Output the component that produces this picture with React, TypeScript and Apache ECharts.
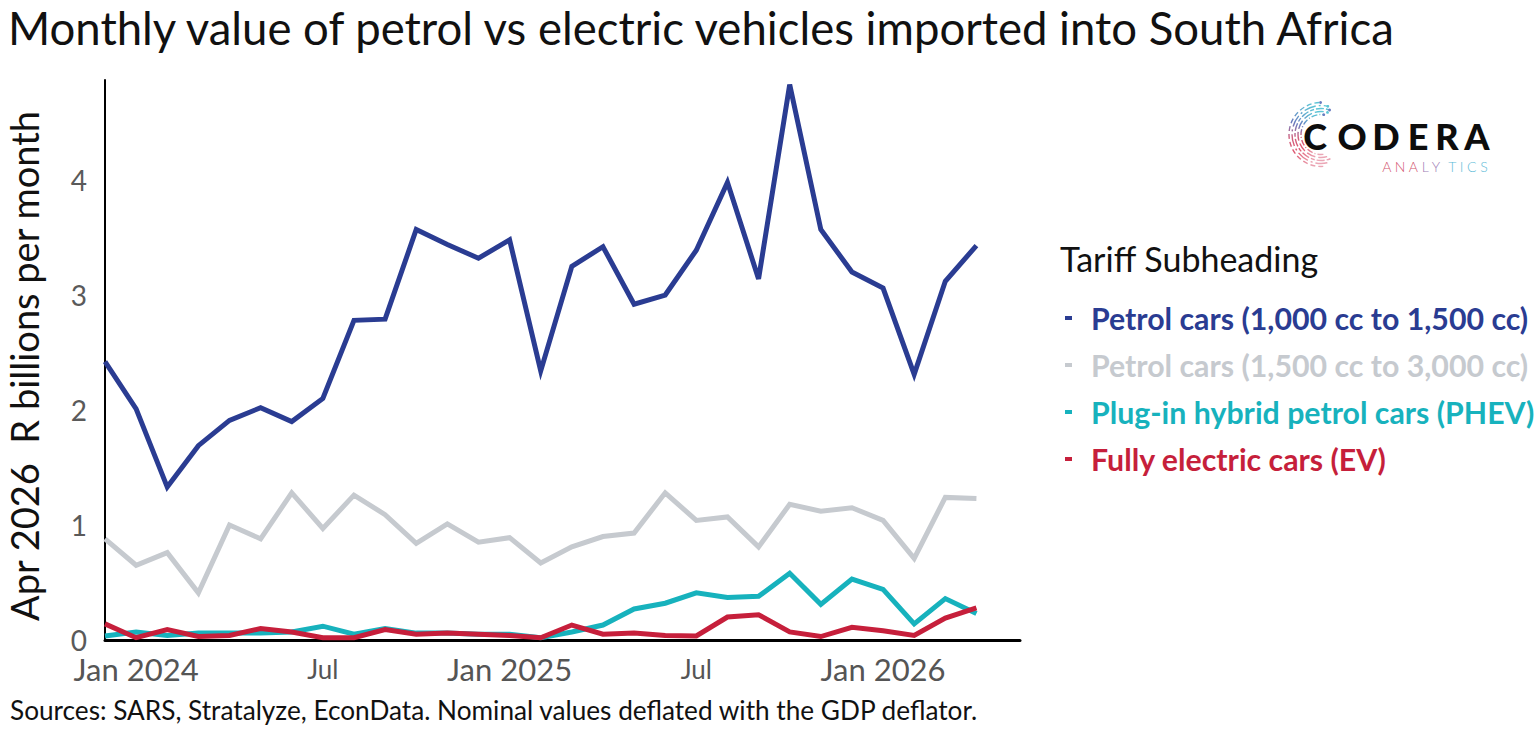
import React, { useEffect, useRef } from "react";
import * as echarts from "echarts";

// Months covered, Dec 2023 to Apr 2026 (one value per month per series)
const months = [
  "2023-12",
  "2024-01", "2024-02", "2024-03", "2024-04", "2024-05", "2024-06",
  "2024-07", "2024-08", "2024-09", "2024-10", "2024-11", "2024-12",
  "2025-01", "2025-02", "2025-03", "2025-04", "2025-05", "2025-06",
  "2025-07", "2025-08", "2025-09", "2025-10", "2025-11", "2025-12",
  "2026-01", "2026-02", "2026-03", "2026-04",
];

// R billions per month, Apr 2026 prices
const petrolSmall = [
  2.42, 2.01, 1.33, 1.69, 1.91, 2.02, 1.9, 2.1, 2.78, 2.79, 3.57, 3.44, 3.32,
  3.48, 2.34, 3.25, 3.42, 2.92, 3.0, 3.39, 3.98, 3.14, 4.83, 3.57, 3.2, 3.06,
  2.31, 3.12, 3.43,
];
const petrolLarge = [
  0.88, 0.65, 0.76, 0.41, 1.0, 0.88, 1.28, 0.97, 1.26, 1.09, 0.84, 1.01, 0.85,
  0.89, 0.67, 0.81, 0.9, 0.93, 1.28, 1.04, 1.07, 0.81, 1.18, 1.12, 1.15, 1.04,
  0.71, 1.24, 1.23,
];
const phev = [
  0.035, 0.07, 0.04, 0.06, 0.06, 0.06, 0.07, 0.12, 0.05, 0.1, 0.06, 0.06, 0.05,
  0.05, 0.02, 0.07, 0.13, 0.27, 0.32, 0.41, 0.37, 0.38, 0.58, 0.31, 0.53, 0.44,
  0.14, 0.36, 0.23,
];
const ev = [
  0.14, 0.02, 0.09, 0.03, 0.04, 0.1, 0.07, 0.02, 0.02, 0.09, 0.05, 0.06, 0.05,
  0.04, 0.02, 0.13, 0.05, 0.06, 0.04, 0.035, 0.2, 0.22, 0.07, 0.03, 0.11, 0.08,
  0.04, 0.19, 0.28,
];

const seriesNames = [
  "Petrol cars (1,000 cc to 1,500 cc)",
  "Petrol cars (1,500 cc to 3,000 cc)",
  "Plug-in hybrid petrol cars (PHEV)",
  "Fully electric cars (EV)",
];
const seriesValues = [petrolSmall, petrolLarge, phev, ev];
const seriesColors = ["#2a3c92", "#c6cacf", "#17b2bd", "#c61f3b"];

// Month positions (index into months) that carry an x-axis label
const xTickIndex = [1, 7, 13, 19, 25];
const xTickLabels = ["Jan 2024", "Jul", "Jan 2025", "Jul", "Jan 2026"];
const yTicks = [0, 1, 2, 3, 4];

const FONT = "Lato, 'Noto Sans', sans-serif";

// Wordmark letters and the coloured sub-line split into colour groups
const brandWord = ["C", "O", "D", "E", "R", "A"];
const brandWordX = [1315, 1352, 1386, 1418, 1447, 1477];
const brandSubGroups = ["A N A", "L Y", "T I C S"];
const brandSubX = [1400, 1431, 1468];
const brandSubColors = ["#d2566f", "#a07eb5", "#62bcd8"];

function buildLogo(): any[] {
  const cx = 1321;
  const cy = 134.5;
  const radii = [20, 23, 26, 29, 32];
  const spans: [number, number][] = [
    [1.45, 4.85],
    [1.3, 5.0],
    [1.2, 5.05],
    [1.35, 4.95],
    [1.5, 4.7],
  ];
  const dashes = [
    [6, 2, 1, 2],
    [9, 3],
    [4, 2, 8, 2],
    [12, 3, 2, 3],
    [5, 3],
  ];
  const arcs = radii.map((r, i) => ({
    type: "arc",
    shape: {
      cx,
      cy,
      r,
      startAngle: spans[i][0],
      endAngle: spans[i][1],
      clockwise: true,
    },
    style: {
      fill: null,
      lineWidth: 1.4,
      lineDash: dashes[i],
      stroke: new echarts.graphic.LinearGradient(0, 0, 0, 1, [
        { offset: 0, color: "#5cc6d6" },
        { offset: 0.3, color: "#6a7cc0" },
        { offset: 0.55, color: "#d0607e" },
        { offset: 0.8, color: "#e05a72" },
        { offset: 1, color: "#eba7b6" },
      ]),
    },
  }));
  const dots = radii.map((r, i) => ({
    type: "circle",
    shape: {
      cx: cx + r * Math.cos(spans[i][1]),
      cy: cy + r * Math.sin(spans[i][1]),
      r: 1.4,
    },
    style: { fill: i % 2 ? "#5cc6d6" : "#6a7cc0" },
  }));
  const word = brandWord.map((ch, i) => ({
    type: "text",
    x: brandWordX[i],
    y: 135.5,
    style: {
      text: ch,
      fontFamily: FONT,
      fontWeight: 900,
      fontSize: 36,
      lineHeight: 30,
      fill: "#0d0d0d",
      align: "center",
      verticalAlign: "middle",
    },
  }));
  const sub = brandSubGroups.map((g, i) => ({
    type: "text",
    x: brandSubX[i],
    y: 166,
    style: {
      text: g,
      fontFamily: FONT,
      fontWeight: 300,
      fontSize: 14,
      lineHeight: 12,
      fill: brandSubColors[i],
      align: "center",
      verticalAlign: "middle",
    },
  }));
  return [...arcs, ...dots, ...word, ...sub];
}

export default function App() {
  const ref = useRef<HTMLDivElement>(null);

  useEffect(() => {
    if (!ref.current) return;
    const chart = echarts.init(ref.current, null, { renderer: "svg" });

    const series = seriesNames.map((name, s) => ({
      name,
      type: "line",
      data: seriesValues[s].map((v, i) => [months.indexOf(months[i]), v]),
      symbol: "none",
      lineStyle: { color: seriesColors[s], width: 5, join: "miter" },
      itemStyle: { color: seriesColors[s] },
      z: 2 + s,
    }));

    chart.setOption({
      animation: false,
      backgroundColor: "#ffffff",
      grid: { left: 105, right: 516, top: 80, bottom: 90, containLabel: false },
      xAxis: {
        type: "value",
        min: 0,
        max: 29.4,
        axisLine: { show: true, lineStyle: { color: "#000", width: 3 } },
        axisTick: { show: false },
        splitLine: { show: false },
        axisLabel: {
          customValues: xTickIndex,
          margin: 15,
          formatter: (v: number) => {
            const k = xTickIndex.indexOf(Math.round(v));
            if (k < 0) return "";
            const t = xTickLabels[k];
            return t.startsWith("Jan") ? `{big|${t}}` : `{small|${t}}`;
          },
          rich: {
            big: { fontSize: 31, fontFamily: FONT, color: "#555", lineHeight: 28 },
            small: { fontSize: 26, fontFamily: FONT, color: "#555", lineHeight: 28 },
          },
        },
      },
      yAxis: {
        type: "value",
        min: 0,
        max: 4.87,
        interval: 1,
        axisLine: { show: true, lineStyle: { color: "#000", width: 2 } },
        axisTick: { show: false },
        splitLine: { show: false },
        axisLabel: {
          showMaxLabel: false,
          margin: 18,
          fontSize: 28,
          lineHeight: 22,
          fontFamily: FONT,
          color: "#5a5a5a",
          formatter: (v: number) => (yTicks.indexOf(v) >= 0 ? String(v) : ""),
        },
      },
      legend: {
        orient: "vertical",
        left: 1060,
        top: 298,
        icon: "rect",
        itemWidth: 7,
        itemHeight: 4,
        itemGap: 17,
        selectedMode: false,
        data: seriesNames.map((n, i) => ({
          name: n,
          textStyle: { color: seriesColors[i] },
        })),
        textStyle: {
          fontFamily: FONT,
          fontWeight: "bold",
          fontSize: 30.3,
          lineHeight: 30,
          padding: [0, 0, 0, 14],
        },
      },
      graphic: [
        {
          type: "text",
          x: 8,
          y: 27,
          style: {
            text: "Monthly value of petrol vs electric vehicles imported into South Africa",
            fontFamily: FONT,
            fontSize: 45.5,
            fill: "#111",
            verticalAlign: "middle",
          },
        },
        {
          type: "text",
          x: 24,
          y: 366,
          rotation: Math.PI / 2,
          style: {
            text: "Apr 2026  R billions per month",
            fontFamily: FONT,
            fontSize: 38,
            fill: "#111",
            align: "center",
            verticalAlign: "middle",
          },
        },
        {
          type: "text",
          x: 1060,
          y: 258,
          style: {
            text: "Tariff Subheading",
            fontFamily: FONT,
            fontSize: 34,
            fill: "#111",
            verticalAlign: "middle",
          },
        },
        {
          type: "text",
          x: 10,
          y: 710,
          style: {
            text: "Sources: SARS, Stratalyze, EconData. Nominal values deflated with the GDP deflator.",
            fontFamily: FONT,
            fontSize: 26.2,
            fill: "#111",
            verticalAlign: "middle",
          },
        },
        ...buildLogo(),
      ],
      series,
    });

    return () => chart.dispose();
  }, []);

  return (
    <div
      ref={ref}
      style={{ position: "fixed", left: 0, top: 0, width: 1536, height: 730 }}
    />
  );
}
